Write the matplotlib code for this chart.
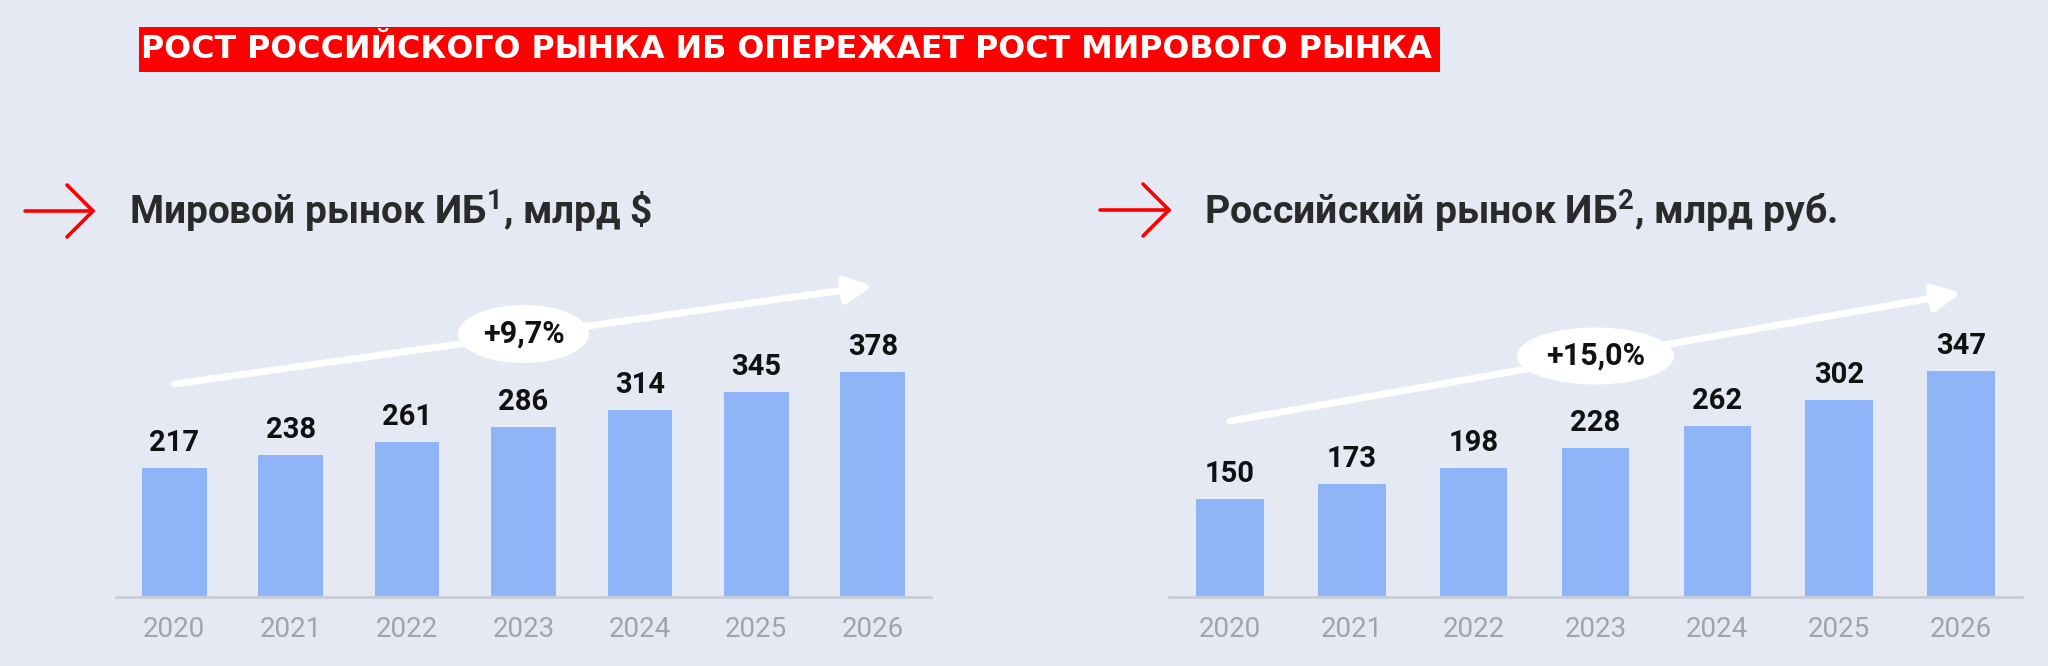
import matplotlib
matplotlib.use("Agg")
import matplotlib.pyplot as plt
from matplotlib.patches import Ellipse, FancyArrowPatch, Rectangle
from matplotlib import font_manager as fm

# ---------------- data ----------------
years = ["2020", "2021", "2022", "2023", "2024", "2025", "2026"]
world_values = [217, 238, 261, 286, 314, 345, 378]
russia_values = [150, 173, 198, 228, 262, 302, 347]
world_cagr = "+9,7%"
russia_cagr = "+15,0%"
main_title = "РОСТ РОССИЙСКОГО РЫНКА ИБ ОПЕРЕЖАЕТ РОСТ МИРОВОГО РЫНКА"
world_title = r"Мировой рынок ИБ$^{\mathbf{1}}$, млрд \$"
russia_title = r"Российский рынок ИБ$^{\mathbf{2}}$, млрд руб."

# ---------------- style ----------------
BG = "#e4e9f4"
BAR = "#8fb4f8"
RED = "#ff0000"
W, H = 2048, 666

available = {f.name for f in fm.fontManager.ttflist}
SUB_FONT = "Roboto" if "Roboto" in available else "DejaVu Sans"
NUM_FONT = "Roboto" if "Roboto" in available else "DejaVu Sans"
plt.rcParams["font.family"] = [SUB_FONT, "DejaVu Sans"]
plt.rcParams["mathtext.fontset"] = "custom"
plt.rcParams["mathtext.rm"] = SUB_FONT
plt.rcParams["mathtext.bf"] = SUB_FONT + ":bold"

fig = plt.figure(figsize=(W / 100, H / 100), dpi=100, facecolor=BG)


def px_axes(x0, x1, y_top, y_bot):
    return fig.add_axes([x0 / W, (H - y_bot) / H, (x1 - x0) / W, (y_bot - y_top) / H])


def draw_panel(ax, values, px_per_unit, axes_h, start_y, tip_y, ell_y, ell_w, ell_h, cagr):
    ax.set_facecolor("none")
    x = list(range(len(years)))
    ax.bar(x, values, width=0.555, color=BAR, zorder=2)
    ax.set_xlim(-0.5, len(years) - 0.5)
    ax.set_ylim(0, axes_h / px_per_unit)
    for s in ["top", "right", "left"]:
        ax.spines[s].set_visible(False)
    ax.spines["bottom"].set_color("#c9ccd6")
    ax.spines["bottom"].set_linewidth(2)
    ax.set_yticks([])
    ax.set_xticks(x)
    ax.set_xticklabels(years, fontsize=20, color="#a3a3a8", fontfamily=NUM_FONT)
    ax.tick_params(axis="x", length=0, pad=14)
    for xi, v in zip(x, values):
        ax.annotate(str(v), (xi, v), xytext=(0, 8), textcoords="offset points",
                    ha="center", va="bottom", fontsize=21, fontweight="bold",
                    color="#111111", fontfamily=NUM_FONT, zorder=4)
    arr = FancyArrowPatch((0, start_y / px_per_unit), (len(years) - 1, tip_y / px_per_unit),
                          arrowstyle="-|>,head_length=16,head_width=8", mutation_scale=1,
                          color="white", lw=5, shrinkA=0, shrinkB=0, zorder=3,
                          clip_on=False)
    ax.add_patch(arr)
    step_px = ax.get_position().width * W / len(years)
    ex = (len(years) - 1) / 2
    ey = ell_y / px_per_unit
    ax.add_patch(Ellipse((ex, ey), ell_w / step_px, ell_h / px_per_unit,
                         facecolor="white", edgecolor="none", zorder=4, clip_on=False))
    ax.text(ex, ey, cagr, ha="center", va="center", fontsize=22, fontweight="bold",
            color="#111111", fontfamily=NUM_FONT, zorder=5)


BASE = 597
TOP = 250
axL = px_axes(116, 931, TOP, BASE)
axR = px_axes(1169, 2022, TOP, BASE)
draw_panel(axL, world_values, 0.595, BASE - TOP, BASE - 384, BASE - 286, BASE - 334, 131, 58, world_cagr)
draw_panel(axR, russia_values, 0.652, BASE - TOP, BASE - 421, BASE - 293, BASE - 356, 157, 57, russia_cagr)

# ---------------- header ----------------
fig.patches.append(Rectangle((139 / W, (H - 72) / H), (1440 - 139) / W, 45 / H,
                             transform=fig.transFigure, facecolor=RED, edgecolor="none"))
t = fig.text(141 / W, (H - 50) / H, main_title, ha="left", va="center", color="white",
             fontsize=25, fontweight="bold", fontfamily="DejaVu Sans")
renderer = fig.canvas.get_renderer()
tw = t.get_window_extent(renderer).width
t.set_fontsize(25 * (1295 / tw))


def red_arrow(x0, x1, yc):
    ys = (H - yc) / H
    fig.add_artist(plt.Line2D([x0 / W, x1 / W], [ys, ys], color=RED, lw=2.6,
                              transform=fig.transFigure, solid_capstyle="round"))
    fig.add_artist(plt.Line2D([(x1 - 26) / W, x1 / W, (x1 - 26) / W],
                              [(H - yc + 26) / H, ys, (H - yc - 26) / H], color=RED, lw=2.6,
                              transform=fig.transFigure, solid_capstyle="round",
                              solid_joinstyle="miter"))


red_arrow(25, 93, 211)
red_arrow(1100, 1169, 210)
fig.text(129 / W, (H - 211) / H, world_title, ha="left", va="center", fontsize=28,
         fontweight="bold", color="#2a2a2a")
fig.text(1204 / W, (H - 211) / H, russia_title, ha="left", va="center", fontsize=28.3,
         fontweight="bold", color="#2a2a2a")

fig.savefig("out.png", dpi=100, facecolor=BG)
